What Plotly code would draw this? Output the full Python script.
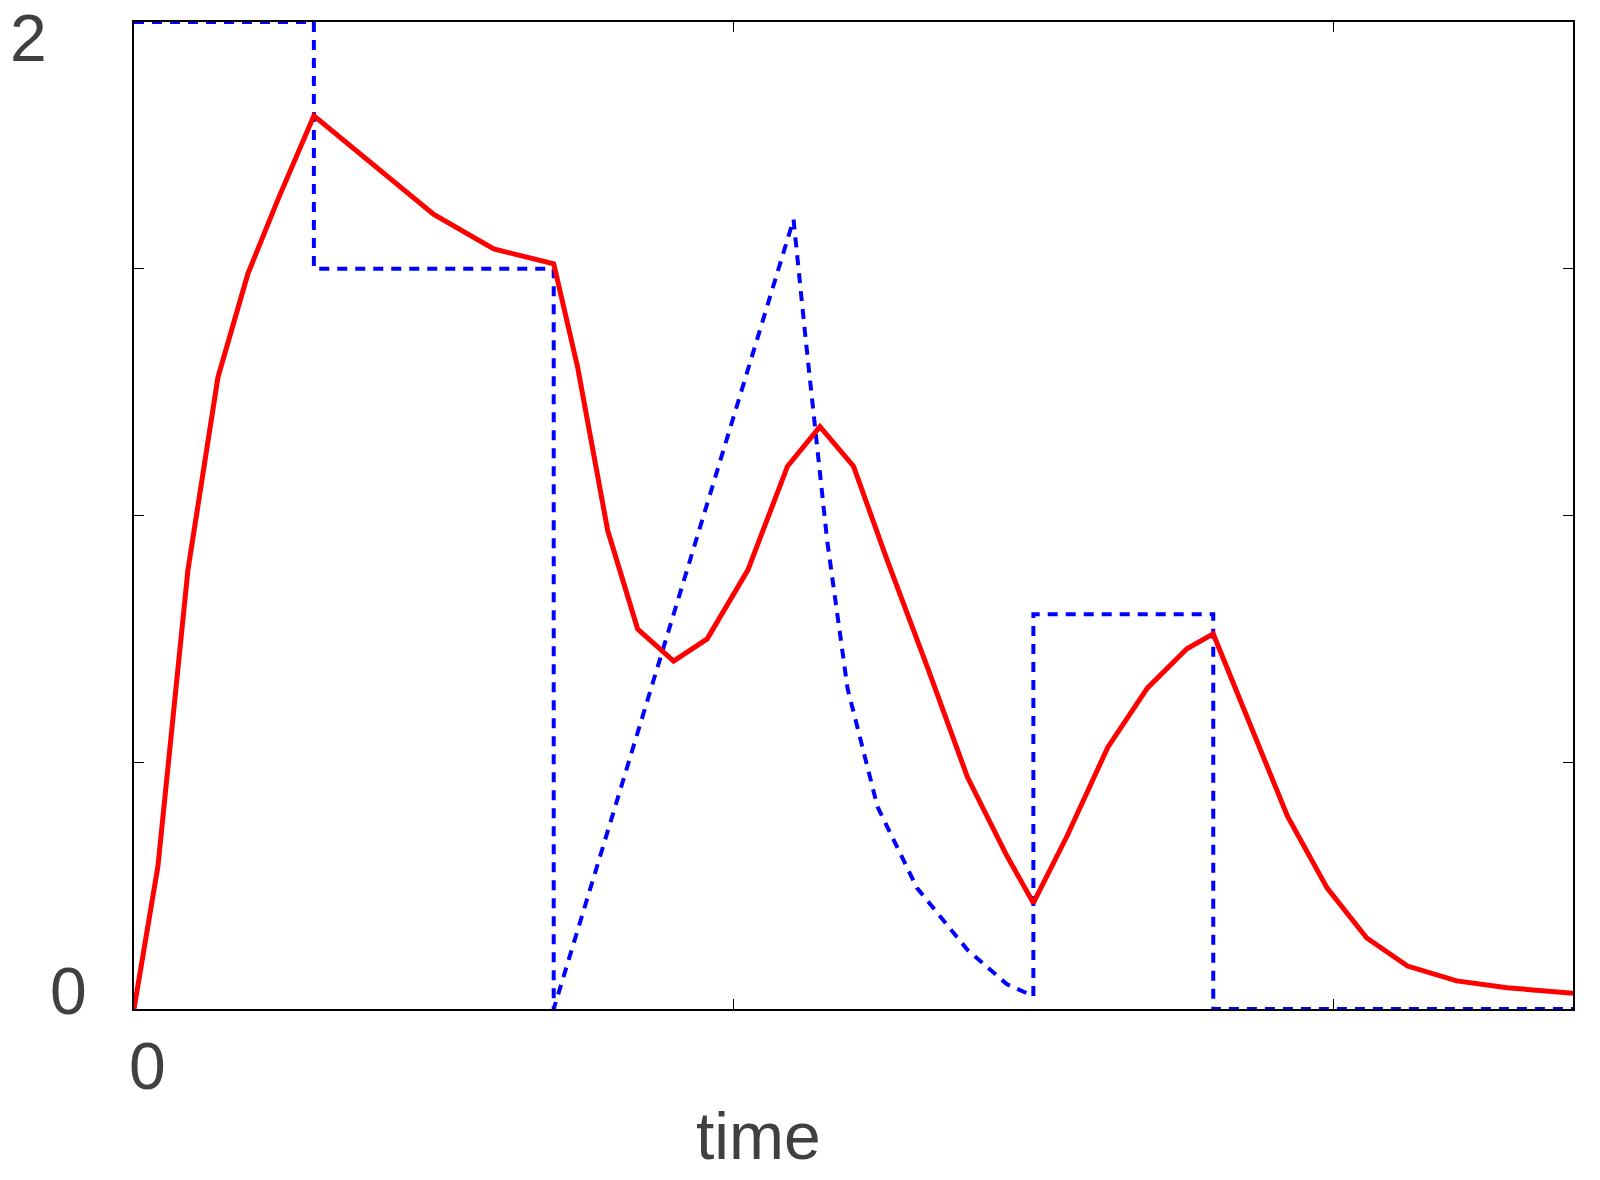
import plotly.graph_objects as go

# input signal (blue dotted)
u_t = [0, 1.5, 1.5, 3.5, 3.5, 5.5, 5.6, 5.78, 5.95, 6.2, 6.53, 6.95, 7.28, 7.5, 7.5, 9.0, 9.0, 12.0]
u_y = [2.0, 2.0, 1.5, 1.5, 0.0, 1.6, 1.36, 0.95, 0.65, 0.41, 0.245, 0.12, 0.05, 0.026, 0.8, 0.8, 0.0, 0.0]

# response (red solid)
y_t = [0, 0.2, 0.45, 0.7, 0.95, 1.2, 1.5, 2.0, 2.5, 3.0, 3.5, 3.7, 3.95, 4.2, 4.5, 4.78, 5.12,
       5.45, 5.72, 6.0, 6.28, 6.62, 6.95, 7.28, 7.5, 7.78, 8.12, 8.45, 8.78, 9.0, 9.28, 9.62,
       9.95, 10.28, 10.62, 11.03, 11.45, 12.0]
y_v = [0, 0.29, 0.89, 1.28, 1.49, 1.64, 1.81, 1.71, 1.61, 1.54, 1.51, 1.30, 0.97, 0.77, 0.705,
       0.75, 0.89, 1.10, 1.18, 1.10, 0.91, 0.69, 0.47, 0.31, 0.215, 0.35, 0.53, 0.65, 0.73, 0.76,
       0.59, 0.39, 0.245, 0.144, 0.087, 0.057, 0.043, 0.032]

fig = go.Figure()
fig.add_trace(go.Scatter(x=u_t, y=u_y, mode='lines', cliponaxis=False,
                         line=dict(color='#0000ff', width=4, dash='10px,8px')))
fig.add_trace(go.Scatter(x=y_t, y=y_v, mode='lines', cliponaxis=False,
                         line=dict(color='#ff0000', width=5)))

axis_common = dict(showgrid=False, zeroline=False, showline=True, linecolor='black',
                   linewidth=1.5, mirror='ticks', ticks='inside', ticklen=10,
                   tickcolor='black', showticklabels=False)
fig.update_layout(
    width=1600, height=1180, showlegend=False,
    plot_bgcolor='white', paper_bgcolor='white',
    margin=dict(l=126, r=35, t=14, b=179),
    font=dict(family='Arial', color='#404040', size=62),
    xaxis=dict(range=[0, 12], tickvals=[0, 5, 10], **axis_common),
    yaxis=dict(range=[0, 2], tickvals=[0, 0.5, 1, 1.5, 2], **axis_common),
)
labels = [(20, 1182 - 32, '2'), (60, 1182 - 985, '0'), (139, 1182 - 1060, '0'), (750, 1182 - 1130, 'time')]
for px, py, txt in labels:
    fig.add_annotation(x=px / 1600, y=py / 1180, xref='paper', yref='paper', text=txt,
                       showarrow=False, xanchor='center', yanchor='middle',
                       font=dict(size=66, color='#404040'))
# convert paper coords properly: paper is the plot area, so map from pixels
for ann in fig.layout.annotations:
    px = ann.x * 1600
    py = 1180 - ann.y * 1180
    ann.x = (px - 126) / (1600 - 126 - 35)
    ann.y = (1001 - py) / (1001 - 14) if False else (1180 - 179 - py) / (1180 - 179 - 14)
fig.write_html("out.html")
